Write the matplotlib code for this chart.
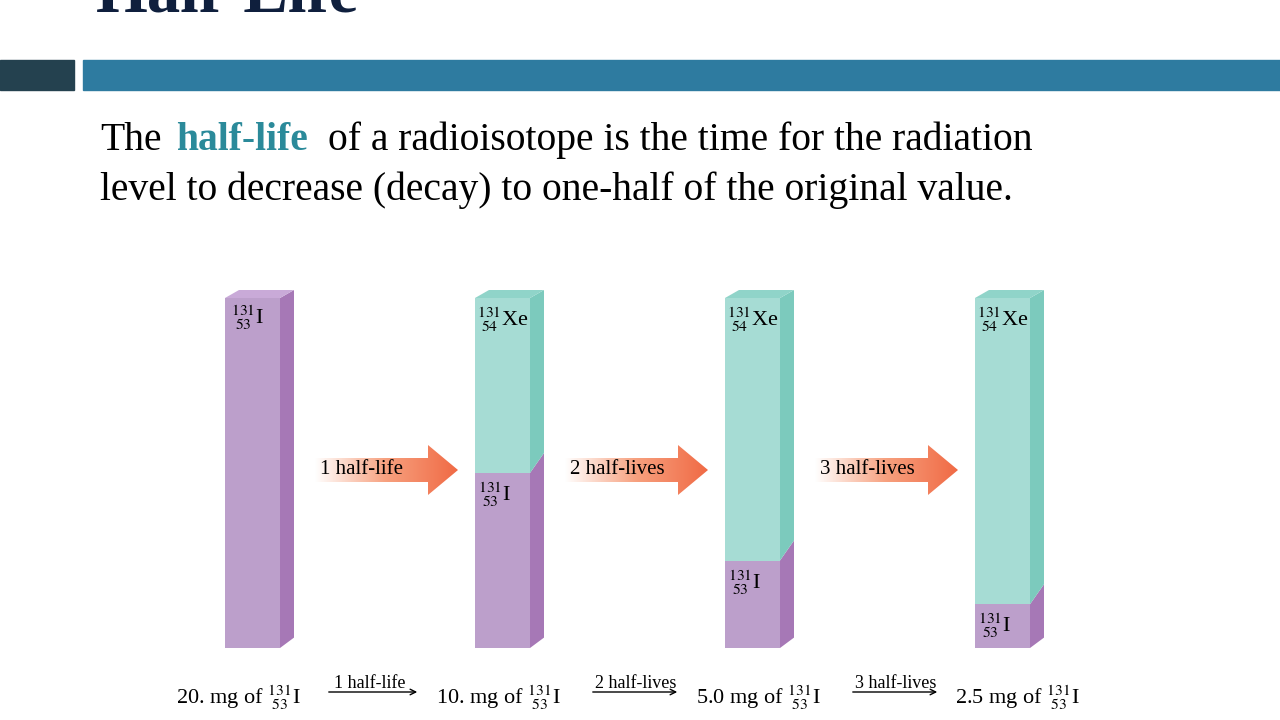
import matplotlib
matplotlib.use("Agg")
import matplotlib.pyplot as plt
from matplotlib.patches import Polygon, Rectangle
import numpy as np

plt.rcParams['font.family'] = ['Liberation Serif', 'DejaVu Serif']
plt.rcParams['mathtext.fontset'] = 'stix'

total_mg = 20.0
iodine_mg = [20.0, 10.0, 5.0, 2.5]
step_labels = ["1 half-life", "2 half-lives", "3 half-lives"]
amount_labels = ["20.", "10.", "5.0", "2.5"]

fig = plt.figure(figsize=(12.8, 7.2), dpi=100)
ax = fig.add_axes([0, 0, 1, 1])
ax.set_xlim(0, 1280); ax.set_ylim(720, 0); ax.axis('off')

# header (title cut off at top edge, as in the slide)
ax.text(96, 12, "Half-Life", fontsize=48, fontweight='bold', color='#0F1F3D',
        va='baseline', ha='left', clip_on=False)
ax.add_patch(Rectangle((0, 60), 74, 30, color='#24414F'))
ax.add_patch(Rectangle((83, 60), 1197, 30, color='#2E7BA0'))

fs = 28.5
ax.text(100, 140, "The", fontsize=fs, va='center')
ax.text(176, 140, "half-life", fontsize=fs, fontweight='bold', color='#2B8A9A', va='center')
ax.text(328, 140, "of a radioisotope is the time for the radiation", fontsize=fs, va='center')
ax.text(100, 190, "level to decrease (decay) to one-half of the original value.", fontsize=fs, va='center')

y0, H = 648, 350
scale = H / total_mg
xs = [225, 475, 725, 975]
w, dx, dy = 55, 14, 8
pf, ps, pt = '#BC9FCB', '#A678B6', '#C9AAD8'
tf, ts, tt = '#A6DCD4', '#7CCABD', '#90D4C9'
iso_I = r"${}^{131}_{\ 53}$I"
iso_Xe = r"${}^{131}_{\ 54}$Xe"
for x, mg in zip(xs, iodine_mg):
    hI = mg * scale
    top = y0 - H
    yI = y0 - hI
    ax.add_patch(Rectangle((x, yI), w, hI, color=pf, lw=0))
    if mg < total_mg:
        ax.add_patch(Polygon([(x+w, y0), (x+w+dx, y0-dy*1.3), (x+w+dx, yI-dy*2.5), (x+w, yI)], color=ps, lw=0))
        ax.add_patch(Rectangle((x, top), w, yI-top, color=tf, lw=0))
        ax.add_patch(Polygon([(x+w, yI), (x+w+dx, yI-dy*2.5), (x+w+dx, top-dy), (x+w, top)], color=ts, lw=0))
        ax.add_patch(Polygon([(x, top), (x+dx, top-dy), (x+w+dx, top-dy), (x+w, top)], color=tt, lw=0))
        ax.text(x+w/2, top+22, iso_Xe, fontsize=16, ha='center', va='center')
        ax.text(x+w/2-8, yI+22, iso_I, fontsize=16, ha='center', va='center')
    else:
        ax.add_patch(Polygon([(x+w, y0), (x+w+dx, y0-dy*1.3), (x+w+dx, top-dy), (x+w, top)], color=ps, lw=0))
        ax.add_patch(Polygon([(x, top), (x+dx, top-dy), (x+w+dx, top-dy), (x+w, top)], color=pt, lw=0))
        ax.text(x+w/2-5, top+20, iso_I, fontsize=16, ha='center', va='center')

cmap = matplotlib.colors.LinearSegmentedColormap.from_list('o', ['#FFFFFF', '#F7A07E', '#F06A45'])
grad = np.linspace(0, 1, 256).reshape(1, -1)
for i, lab in enumerate(step_labels):
    xa = xs[i] + w + 35
    xe = xs[i+1] - 17
    xh = xe - 30
    poly = Polygon([(xa, 458), (xh, 458), (xh, 445), (xe, 470), (xh, 495), (xh, 482), (xa, 482)], lw=0, fc='none')
    ax.add_patch(poly)
    im = ax.imshow(grad, cmap=cmap, extent=(xa, xe, 495, 445), aspect='auto', zorder=1)
    im.set_clip_path(poly)
    ax.text(xa+5, 470, lab, fontsize=15, va='center', ha='left', zorder=3)
ax.set_xlim(0, 1280); ax.set_ylim(720, 0)

by = 698
bx = [176, 436, 696, 955]
for i, (x, a) in enumerate(zip(bx, amount_labels)):
    ax.text(x, by, a + " mg of " + iso_I, fontsize=16, va='center', ha='left')
    if i < 3:
        ax.annotate("", xy=(x+244, by-6), xytext=(x+150, by-6) if i == 0 else (x+154, by-6),
                    arrowprops=dict(arrowstyle='->', lw=1, color='black'))
        ax.text(x+194 if i == 0 else x+200, by-14, step_labels[i], fontsize=13, ha='center', va='center')

fig.savefig("out.png", dpi=100)
